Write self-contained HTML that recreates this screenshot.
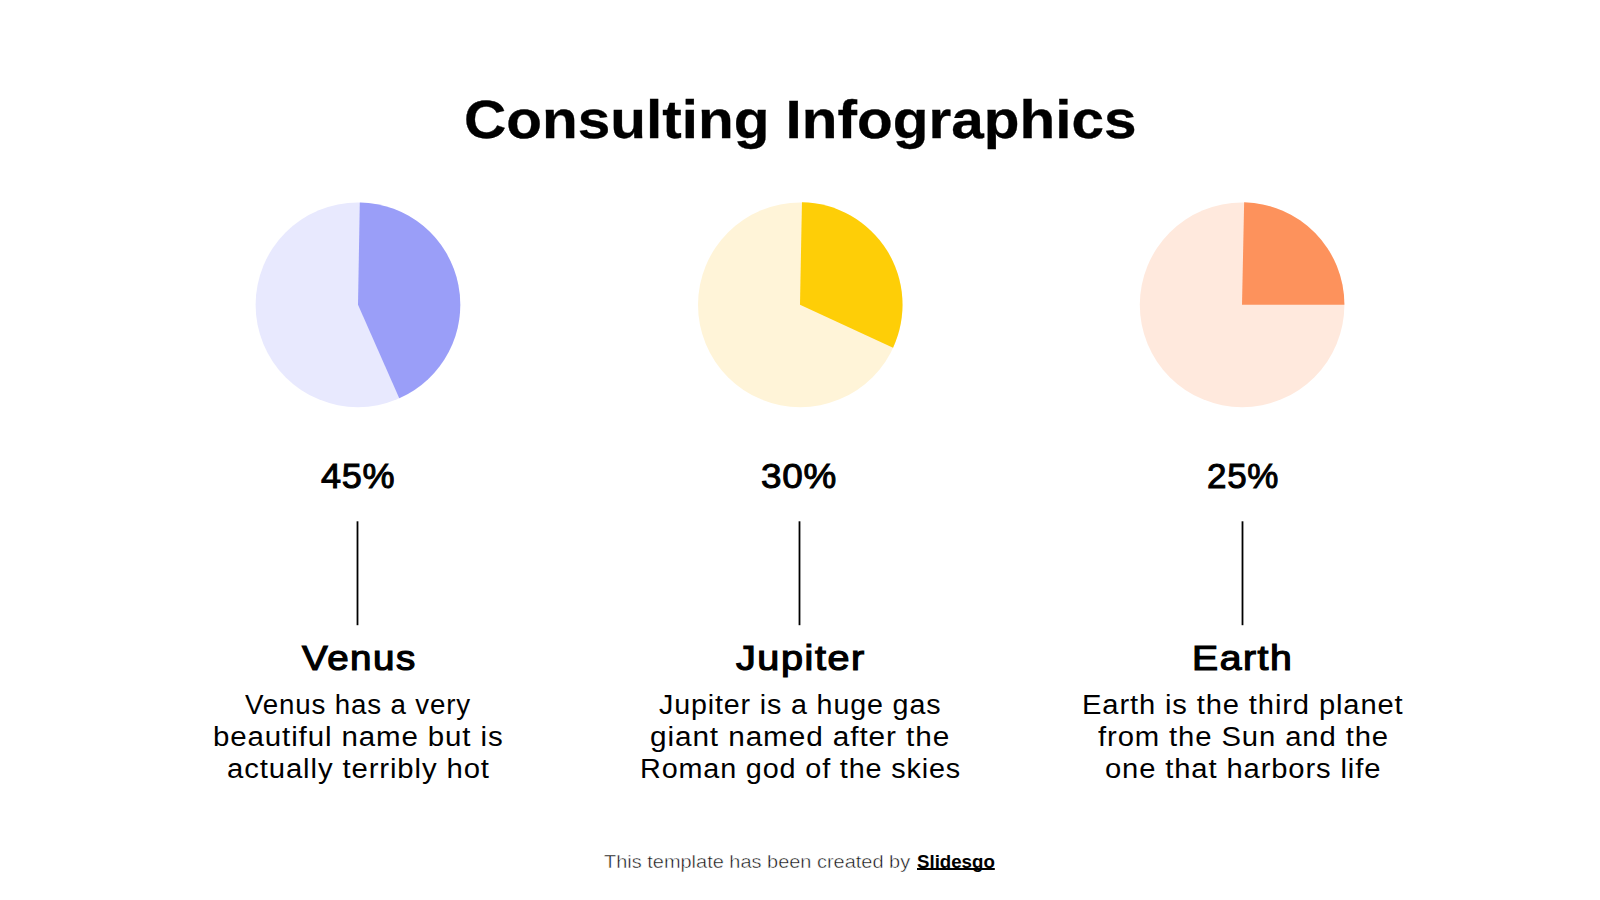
<!DOCTYPE html>
<html lang="en">
<head>
<meta charset="utf-8">
<title>Consulting Infographics</title>
<style>
html,body{margin:0;padding:0;background:#fff;}
body{width:1600px;height:900px;position:relative;overflow:hidden;font-family:"Liberation Sans", sans-serif;color:#000;}
.slide{position:absolute;left:0;top:0;width:1600px;height:900px;background:#fff;}
h1,h2,p,figure{margin:0;padding:0;font-weight:inherit;font-size:inherit;}
.t{position:absolute;display:block;white-space:nowrap;line-height:1;transform-origin:0 0;margin:0;padding:0;}
svg.g{position:absolute;left:0;top:0;width:1600px;height:900px;overflow:visible;pointer-events:none;}
a{color:inherit;}

#title{left:463.81px;top:93.00px;font-size:53.4px;font-weight:700;transform:scaleX(1.0954);-webkit-text-stroke:0.3px #000;}
#pct1{left:321.47px;top:459.01px;font-size:34.88px;font-weight:400;transform:scaleX(1.0344);letter-spacing:0.02em;-webkit-text-stroke:1.0px #000;}
#pct2{left:761.44px;top:459.01px;font-size:34.88px;font-weight:400;transform:scaleX(1.0581);letter-spacing:0.02em;-webkit-text-stroke:1.0px #000;}
#pct3{left:1206.50px;top:459.01px;font-size:34.88px;font-weight:400;transform:scaleX(1.0029);letter-spacing:0.02em;-webkit-text-stroke:1.0px #000;}
#h1a{left:301.54px;top:641.00px;font-size:34.3px;font-weight:400;transform:scaleX(1.1240);letter-spacing:0.04em;-webkit-text-stroke:1.2px #000;}
#h2a{left:735.51px;top:641.00px;font-size:34.3px;font-weight:400;transform:scaleX(1.1532);letter-spacing:0.04em;-webkit-text-stroke:1.2px #000;}
#h3a{left:1191.69px;top:641.00px;font-size:34.3px;font-weight:400;transform:scaleX(1.1406);letter-spacing:0.04em;-webkit-text-stroke:1.2px #000;}
#b11{left:245.49px;top:692.00px;font-size:27px;font-weight:400;transform:scaleX(1.0265);letter-spacing:0.03em;}
#b12{left:212.82px;top:724.00px;font-size:27px;font-weight:400;transform:scaleX(1.0916);letter-spacing:0.03em;}
#b13{left:226.88px;top:756.00px;font-size:27px;font-weight:400;transform:scaleX(1.0858);letter-spacing:0.03em;}
#b21{left:658.95px;top:692.00px;font-size:27px;font-weight:400;transform:scaleX(1.0608);letter-spacing:0.03em;}
#b22{left:650.37px;top:724.00px;font-size:27px;font-weight:400;transform:scaleX(1.1026);letter-spacing:0.03em;}
#b23{left:640.39px;top:756.00px;font-size:27px;font-weight:400;transform:scaleX(1.0651);letter-spacing:0.03em;}
#b31{left:1081.83px;top:692.00px;font-size:27px;font-weight:400;transform:scaleX(1.0793);letter-spacing:0.03em;}
#b32{left:1098.00px;top:724.00px;font-size:27px;font-weight:400;transform:scaleX(1.0842);letter-spacing:0.03em;}
#b33{left:1105.43px;top:756.00px;font-size:27px;font-weight:400;transform:scaleX(1.0806);letter-spacing:0.03em;}
#foot1{left:604.45px;top:853.01px;font-size:18.1px;font-weight:400;transform:scaleX(1.1029);color:#111;-webkit-text-stroke:0.45px #fff;}
#foot2{left:916.50px;top:853.01px;font-size:18.1px;font-weight:700;transform:scaleX(1.0318);text-decoration:underline;text-decoration-thickness:2px;text-underline-offset:0px;text-decoration-skip-ink:none;}
</style>
</head>
<body>
<main class="slide">
<h1 class="t" id="title">Consulting Infographics</h1>
<section class="col" id="venus">
<svg class="g" viewBox="0 0 1600 900" aria-hidden="true">
<circle cx="357.9" cy="304.85" r="102.3" fill="#E8E9FE"/>
<path d="M358.00 304.70L359.79 202.42A102.3 102.3 0 0 1 399.28 398.30Z" fill="#9A9EF8"/>
<line x1="357.5" y1="521.3" x2="357.5" y2="625.2" stroke="#000" stroke-width="1.8"/>
</svg>
<div class="t" id="pct1">45%</div>
<h2 class="t" id="h1a">Venus</h2>
<p class="desc">
<span class="t" id="b11">Venus has a very</span>
<span class="t" id="b12">beautiful name but is</span>
<span class="t" id="b13">actually terribly hot</span>
</p>
</section>
<section class="col" id="jupiter">
<svg class="g" viewBox="0 0 1600 900" aria-hidden="true">
<circle cx="800.3" cy="304.85" r="102.3" fill="#FFF4D8"/>
<path d="M800.00 304.70L801.97 202.22A102.5 102.5 0 0 1 893.05 347.69Z" fill="#FECE07"/>
<line x1="799.5" y1="521.3" x2="799.5" y2="625.2" stroke="#000" stroke-width="1.8"/>
</svg>
<div class="t" id="pct2">30%</div>
<h2 class="t" id="h2a">Jupiter</h2>
<p class="desc">
<span class="t" id="b21">Jupiter is a huge gas</span>
<span class="t" id="b22">giant named after the</span>
<span class="t" id="b23">Roman god of the skies</span>
</p>
</section>
<section class="col" id="earth">
<svg class="g" viewBox="0 0 1600 900" aria-hidden="true">
<circle cx="1242.1" cy="304.85" r="102.3" fill="#FFE9DD"/>
<path d="M1242.00 304.70L1244.14 202.32A102.4 102.4 0 0 1 1344.40 304.70Z" fill="#FD925C"/>
<line x1="1242.5" y1="521.3" x2="1242.5" y2="625.2" stroke="#000" stroke-width="1.8"/>
</svg>
<div class="t" id="pct3">25%</div>
<h2 class="t" id="h3a">Earth</h2>
<p class="desc">
<span class="t" id="b31">Earth is the third planet</span>
<span class="t" id="b32">from the Sun and the</span>
<span class="t" id="b33">one that harbors life</span>
</p>
</section>
<footer>
<p class="t" id="foot1">This template has been created by</p>
<a class="t" id="foot2"><b>Slidesgo</b></a>
</footer>
</main>
</body>
</html>
